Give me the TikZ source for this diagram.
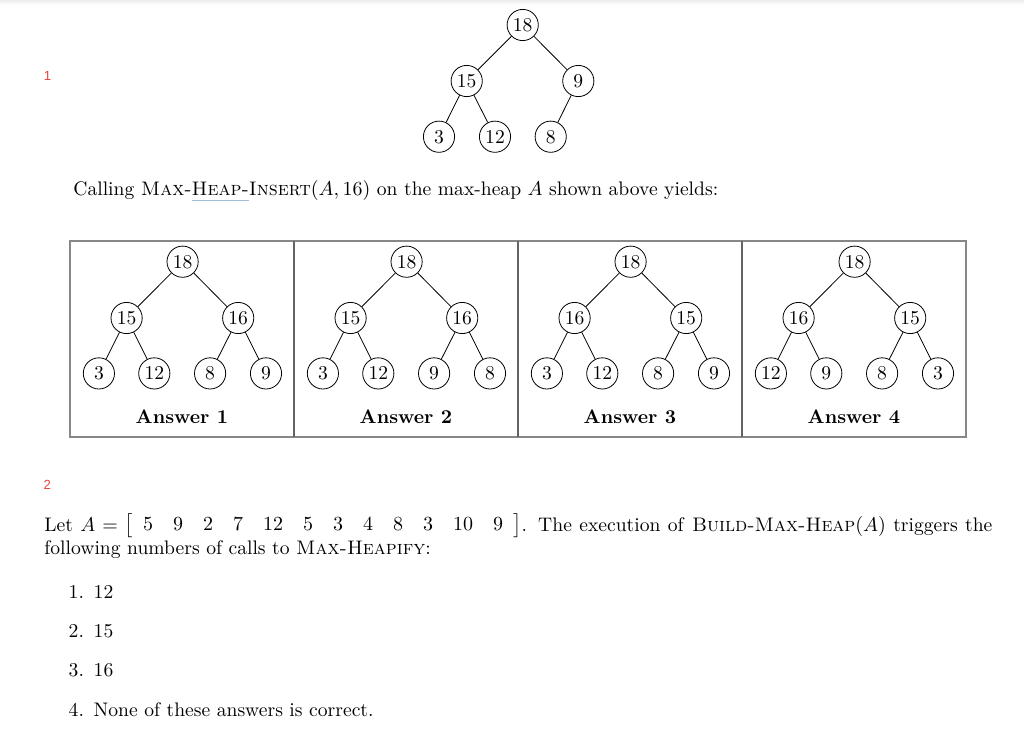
\documentclass[tikz,border=0pt]{standalone}
\usepackage{fontspec}
\newfontfamily\redsans{Liberation Sans}
\definecolor{numred}{RGB}{232,70,60}
\definecolor{ulblue}{RGB}{160,190,215}
\definecolor{boxgray}{RGB}{135,135,135}
\definecolor{divgray}{RGB}{100,100,100}
\newcommand\basefont{\fontsize{9.8}{11.8}\selectfont}
\newcommand\bluline[1]{\setbox0\hbox{#1}\rlap{\color{ulblue}\rule[-2.4pt]{\wd0}{0.45pt}}\box0}
\tikzset{
  hnode/.style={circle, draw, line width=0.4pt, minimum size=15.6pt, inner sep=0.5pt, font=\basefont},
  hedge/.style={line width=0.4pt},
  txt/.style={anchor=base west, inner sep=0pt, font=\basefont},
  anslabel/.style={anchor=base, inner sep=0pt, font=\basefont\bfseries},
  qnum/.style={anchor=base west, inner sep=0pt, text=numred, font=\redsans\fontsize{6.6}{8}\selectfont},
  ansbox/.style={draw=boxgray, line width=0.55pt},
  divline/.style={draw=divgray, line width=0.6pt}
}
% full heap of 7 nodes: #1 prefix, #2 root, #3 L, #4 R, #5 LL, #6 LR, #7 RL, #8 RR
\newcommand\heaptree[8]{%
  \node[hnode] (#1r) at (0,0) {#2};
  \node[hnode] (#1a) at (-56,56.3) {#3};
  \node[hnode] (#1b) at (55.6,56.3) {#4};
  \node[hnode] (#1c) at (-83.7,111.7) {#5};
  \node[hnode] (#1d) at (-28.3,111.7) {#6};
  \node[hnode] (#1e) at (27.5,111.7) {#7};
  \node[hnode] (#1f) at (83.4,111.7) {#8};
  \draw[hedge] (#1r) -- (#1a);
  \draw[hedge] (#1r) -- (#1b);
  \draw[hedge] (#1a) -- (#1c);
  \draw[hedge] (#1a) -- (#1d);
  \draw[hedge] (#1b) -- (#1e);
  \draw[hedge] (#1b) -- (#1f);
}
\begin{document}
\begin{tikzpicture}[x=0.5pt, y=-0.5pt]
\useasboundingbox (0,0) rectangle (1024,729);
\fill[white] (0,0) rectangle (1024,729);
\shade[top color=gray!14, bottom color=white] (0,0) rectangle (1024,5);

% question numbers
\node[qnum] (q1) at (43.5,80.5) {1};
\node[qnum] (q2) at (43.3,489.5) {2};

% top heap
\begin{scope}[shift={(522.7,25)}]
  \node[hnode] (tr) at (0,0) {18};
  \node[hnode] (ta) at (-56,56) {15};
  \node[hnode] (tb) at (55.6,56) {9};
  \node[hnode] (tc) at (-83.7,111.7) {3};
  \node[hnode] (td) at (-27.7,111.7) {12};
  \node[hnode] (te) at (28,111.7) {8};
  \draw[hedge] (tr) -- (ta);
  \draw[hedge] (tr) -- (tb);
  \draw[hedge] (ta) -- (tc);
  \draw[hedge] (ta) -- (td);
  \draw[hedge] (tb) -- (te);
\end{scope}

\node[txt] (calling) at (73,195.7) {Calling \textsc{Max-\bluline{Heap-}Insert}$(A,16)$ on the max-heap $A$ shown above yields:};

% answer boxes
\draw[ansbox] (70,241) rectangle (966,437);
\draw[divline] (294,241) -- (294,437);
\draw[divline] (518,241) -- (518,437);
\draw[divline] (742,241) -- (742,437);

\begin{scope}[shift={(182.6,261.7)}]
  \heaptree{p}{18}{15}{16}{3}{12}{8}{9}
\end{scope}
\begin{scope}[shift={(406.6,261.7)}]
  \heaptree{q}{18}{15}{16}{3}{12}{9}{8}
\end{scope}
\begin{scope}[shift={(630.6,261.7)}]
  \heaptree{s}{18}{16}{15}{3}{12}{8}{9}
\end{scope}
\begin{scope}[shift={(854.6,261.7)}]
  \heaptree{u}{18}{16}{15}{12}{9}{8}{3}
\end{scope}

\node[anslabel] (a1) at (182,423) {Answer 1};
\node[anslabel] (a2) at (406,423) {Answer 2};
\node[anslabel] (a3) at (630,423) {Answer 3};
\node[anslabel] (a4) at (854,423) {Answer 4};

% question 2
\node[txt] (let) at (44,531) {\hbox to 474pt{Let $A = \left[\begin{array}{cccccccccccc} 5 & 9 & 2 & 7 & 12 & 5 & 3 & 4 & 8 & 3 & 10 & 9\end{array}\right]$. The execution of \textsc{Build-Max-Heap}$(A)$ triggers the}};
\node[txt] (foll) at (44,554) {following numbers of calls to \textsc{Max-Heapify}:};

\node[txt] (n1) at (68.3,598) {1.};
\node[txt] (i1) at (93.3,598) {12};
\node[txt] (n2) at (68.3,637) {2.};
\node[txt] (i2) at (93.3,637) {15};
\node[txt] (n3) at (68.3,676.5) {3.};
\node[txt] (i3) at (93.3,676.5) {16};
\node[txt] (n4) at (68.3,716) {4.};
\node[txt] (i4) at (93.3,716) {None of these answers is correct.};
\end{tikzpicture}
\end{document}
